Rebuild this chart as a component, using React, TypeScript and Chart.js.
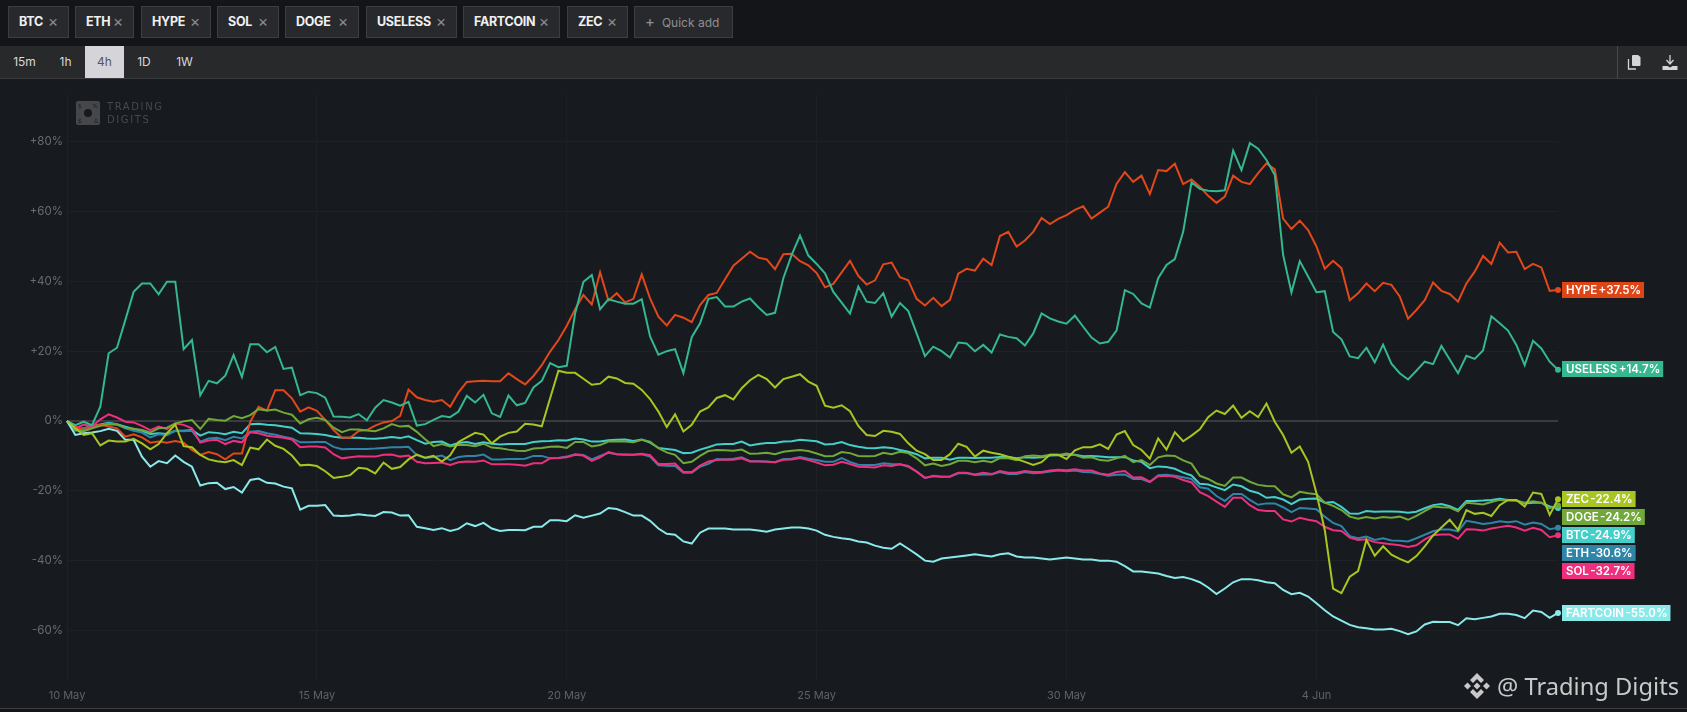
import { useEffect, useRef } from "react";
import { Chart, registerables } from "chart.js";

Chart.register(...registerables);

// tick labels of the time axis, one every 30 candles (5 days of 4h)
const dayLabels = ["10 May", "15 May", "20 May", "25 May", "30 May", "4 Jun"];
const yTicks = [-60, -40, -20, 0, 20, 40, 60, 80];

const chips = ["BTC", "ETH", "HYPE", "SOL", "DOGE", "USELESS", "FARTCOIN", "ZEC"];
const chipBoxes = [[8, 61], [75, 59], [141, 70], [217, 62], [285, 74], [366, 91], [463, 97], [567, 61]];
const timeframes = ["15m", "1h", "4h", "1D", "1W"];

// % change per candle
const btc = [
  0,-2.5,-2.1,-1.4,-1,-0.5,-0.9,-1.6,-2.3,-2.8,
  -3.7,-3.5,-3.7,-2.8,-2.8,-2.6,-4.2,-3.2,-3.4,-3.8,
  -3.1,-3.5,-0.9,-0.8,-1.1,-1.2,-1.6,-1.9,-3.5,-3.6,
  -3.7,-4,-4.5,-4.8,-4.8,-4.8,-5,-5.1,-4.9,-4.6,
  -4.9,-4.4,-5.5,-6.5,-6,-5.9,-7,-6.3,-6,-6.6,
  -6.1,-6.5,-6.7,-6.6,-6.6,-6.6,-6,-5.8,-5.7,-5.5,
  -5.6,-5,-5.3,-5.9,-5.9,-5.5,-5.4,-5.3,-5.7,-5.3,
  -6.2,-7.7,-8,-8.3,-9.2,-9.1,-8.2,-7.5,-6.7,-6.6,
  -6.6,-5.9,-7,-6.6,-6.3,-6.3,-5.9,-5.8,-5.4,-5.6,
  -5.8,-6.7,-6.6,-6,-6.9,-7.4,-7.7,-7.8,-7.5,-7.7,
  -8.3,-8.8,-9.5,-10.7,-10.5,-10.5,-11.1,-10.5,-10.5,-10.6,
  -10.5,-10.5,-10.3,-10.3,-10.7,-10.4,-10.5,-10.4,-9.9,-9.8,
  -9.7,-9.7,-10.1,-10,-10.2,-10.4,-10.4,-10.3,-11.3,-11.7,
  -13.5,-13,-13.2,-13.7,-14.8,-15.6,-18,-18.2,-19,-19.8,
  -18.2,-18.7,-20,-20.6,-22,-21.8,-22.5,-23.8,-22.5,-22.3,
  -22.2,-23.4,-23.2,-24.6,-26.5,-26.6,-25.8,-26,-25.9,-25.9,
  -26,-26.3,-26,-25,-24.1,-23.8,-24.4,-25.5,-22.9,-22.9,
  -22.8,-22.6,-22.3,-22.6,-22.8,-23.6,-23.4,-23.4,-24.5,-24.9,
];
const eth = [
  0,-2.8,-2.1,-1.6,-1.2,-0.7,-1,-2.1,-2.8,-3.3,
  -4.7,-3.8,-4.1,-2.8,-2.9,-2.8,-5.9,-5,-4.8,-5.5,
  -4.5,-5,-3.1,-2.9,-3.5,-3.9,-4.5,-5,-6.1,-6.1,
  -6,-6,-7.4,-8.1,-8,-8,-8,-7.9,-7.7,-7.5,
  -7.5,-7.4,-9.8,-10.6,-10.3,-9.9,-11.2,-10.3,-10,-10,
  -9.6,-11,-11,-10.9,-10.9,-10.8,-10,-10,-10.7,-10.6,
  -10.2,-9.5,-9.7,-11,-10,-9.1,-9.5,-9.6,-9.7,-9.5,
  -10.2,-12.7,-12.8,-12.9,-14.8,-14.8,-13.1,-12.3,-10.9,-11,
  -10.8,-10.4,-11.5,-11.5,-11.6,-11.8,-10.9,-10.8,-10.3,-10.8,
  -11.2,-11.7,-11.7,-10.6,-11.7,-12.5,-12.6,-12.6,-12.1,-12.3,
  -12.4,-13.1,-14.5,-16.3,-15.8,-16,-16,-15,-15,-15.5,
  -15.3,-15.3,-14.6,-15.2,-15.2,-14.6,-15,-14.8,-14.5,-14.2,
  -14.4,-14.2,-14.6,-14.7,-15.2,-15.7,-15.4,-15.3,-16.6,-16.6,
  -17.5,-15.5,-15.4,-15.7,-16.1,-16.6,-19,-19.4,-21.5,-22.9,
  -20.9,-20.9,-22.6,-24,-23.6,-23.6,-24.7,-26.1,-24.9,-25.1,
  -25.3,-27.4,-29.2,-30.1,-33,-33.6,-33.1,-34.1,-33.6,-34.2,
  -34.3,-34.5,-33.6,-32.6,-31.6,-31.1,-31.1,-31.6,-28.6,-29,
  -29.5,-29.2,-28.7,-29,-28.7,-29.7,-29.1,-29.5,-31,-30.6,
];
const hype = [
  0,-1.5,-2.6,-1.6,-1,-1.6,-2.1,-4.5,-3.8,-4.7,
  -6.2,-5.9,-6.2,-5.7,-6.2,-8.3,-9.7,-8.9,-9.5,-11,
  -9.3,-9.3,-0.2,4.1,3,8.8,8.8,6.5,2.7,3.9,
  2.9,0.3,-2.6,-4.8,-4.8,-2.9,-2.6,-1.3,-0.4,0,
  1.5,9,6.8,6,5.5,6,4.1,8.2,11.2,11.4,
  11.5,11.4,11.4,13.7,12,10.5,12.9,16,19.9,23.2,
  27.3,32,36.1,33.4,42.6,34.5,36.6,34,35,42,
  35.1,29.9,27.4,30.4,29.6,28.3,33.2,36.1,36.7,40.6,
  44.5,46.5,48.5,46.8,46.3,43.5,47.8,47.9,45.8,44.6,
  42.4,38.3,39.3,42.6,45.9,41.6,39.1,40.3,44.9,45.4,
  41.2,40.3,35,33.1,35.3,32.9,34.7,42.2,43.6,43.1,
  46.5,44.7,53,54.2,50,51.7,54.2,58.2,56.4,57.9,
  59,60.5,61.5,58,59.7,61.4,67.9,71.3,68.5,70.3,
  65,71.9,71.6,73.7,67.9,69.2,67.1,64.5,62.5,64.3,
  70.3,68.5,67.9,71,73.8,72.1,58,55,57.4,54.7,
  50,43.6,45.9,43.8,34.6,36.6,39.4,37.2,39.6,39,
  35.7,29.3,31.8,34.6,39.7,37.3,36.4,34.2,39.4,42.8,
  47.3,45,51.1,48.3,48.5,43.5,45,44,37.3,37.5,
];
const sol = [
  0,-2.1,-1,-1.6,0.5,1.9,1,-0.2,-0.4,-1.4,
  -2.6,-1.6,-2.3,-0.7,-1.1,-2.1,-6.2,-5.6,-5.4,-6.6,
  -5.7,-6.1,-3.2,-3.5,-4.2,-4.5,-4.8,-5.3,-7.5,-7.3,
  -7.3,-7.6,-9.5,-10.7,-10.4,-10.1,-10.2,-10.2,-9.7,-9.6,
  -10.2,-9.9,-11.7,-12.1,-12,-11.9,-12.6,-11.8,-11.6,-11.7,
  -11.3,-12.4,-12.4,-12.4,-12.5,-12.8,-12.1,-12.1,-10.7,-10.6,
  -10.4,-9.7,-9.9,-11.4,-10.4,-8.9,-9.5,-9.7,-9.7,-9.4,
  -9.8,-12.3,-12.3,-12.2,-14.6,-14.6,-12.8,-11.6,-11.2,-11,
  -11.1,-10.7,-11.6,-11.6,-11.7,-11.8,-11.1,-11,-10.6,-11.2,
  -11.9,-12.7,-12.5,-11.7,-12.3,-13.1,-13.2,-13.3,-12.7,-12.9,
  -12.4,-12.9,-14.5,-16.3,-15.7,-16,-15.9,-14.8,-14.8,-15.3,
  -14.8,-15.2,-14.3,-14.8,-14.8,-14.3,-14.6,-14.6,-14.2,-14,
  -14.1,-13.8,-14.2,-14.2,-15,-15.4,-14.6,-14.3,-16.2,-16.1,
  -17.4,-15.8,-15.7,-16,-16.9,-17.6,-20.4,-21.5,-23.1,-24.6,
  -22,-22,-24.1,-25.5,-25.8,-25.8,-28.2,-28.8,-27.7,-28.3,
  -28.7,-30.3,-31.3,-31.5,-33.4,-34.1,-33.9,-34.7,-35,-35.3,
  -35.6,-36.1,-35.6,-33.9,-32.7,-32.5,-32.5,-33.7,-31,-31.1,
  -31.4,-30.8,-30.4,-30,-30.5,-31.4,-30.6,-31.2,-33.3,-32.7,
];
const doge = [
  0,-2.6,-2.9,-2.1,-1.4,-0.9,-1,-1.9,-2.2,-2.6,
  -3.3,-2.1,-1.9,-0.7,-0.1,0.3,-2.3,0.6,0.3,0.1,
  1.4,0.8,1.7,3.4,3,3.3,2.4,1.8,-0.7,0.5,
  0.9,0.3,-1.9,-3.2,-2.4,-2.4,-2.7,-2.9,-2.1,-0.9,
  -1.6,-1.4,-3.1,-5.2,-7.2,-6.6,-7.3,-6.8,-6.9,-7.2,
  -6.5,-7.6,-7.8,-8.2,-8.5,-8.6,-7.9,-7.7,-7.4,-7.3,
  -7.7,-6,-6,-7.3,-6.9,-5.9,-5.8,-5.9,-6.1,-5.4,
  -5.9,-7.8,-9,-9.7,-12.1,-11.7,-10,-8.6,-8.3,-8.4,
  -8.5,-8.2,-9.4,-9.3,-9.1,-9.5,-8.8,-8.5,-8.3,-8.6,
  -9.3,-10.1,-10,-8.9,-9.2,-10,-10.1,-10,-9.1,-9.5,
  -8.8,-9.2,-10.7,-12.7,-12.2,-12.9,-12.4,-11.4,-11.4,-11.8,
  -11.4,-11.8,-10.6,-10.7,-11.2,-10.1,-9.9,-10.1,-9.7,-9.7,
  -9.3,-9.7,-10.5,-10.4,-11.2,-11.4,-10.7,-10,-11.8,-11.2,
  -12.6,-10.4,-9.9,-10,-11.3,-12.2,-15.7,-16.6,-17.9,-18.6,
  -16.2,-16.2,-17.4,-18.3,-18.6,-18.7,-21,-21.9,-20.3,-20.7,
  -21,-23.4,-24.3,-25.5,-27.4,-28,-27.5,-27.9,-27.5,-27.7,
  -27.4,-28.3,-27.2,-25.8,-24.5,-24.7,-24.8,-25.9,-23.4,-23.6,
  -23.9,-23.2,-22.6,-22.8,-22.8,-23.4,-23,-23.4,-25,-24.2,
];
const useless = [
  0,-1.2,-0.2,-1.2,4.1,19.4,21,28.9,37,39.4,
  39.4,36.3,39.9,39.9,20.6,23.2,7.4,11.5,10.8,13,
  18.9,12.6,22,22,19.7,21.2,14.9,15.3,7.4,8.4,
  8,6.7,1.3,1.2,1,2,0.2,3.8,6,5.3,
  4.4,5.5,-1.3,-0.9,0.3,1.4,1.1,2.7,7.2,5.3,
  7.5,2.2,1.2,7.3,4.5,5.2,9.6,11.5,16.6,15.4,
  15.8,30.8,39.9,41.8,32,34.9,34.2,33.6,33.6,34.9,
  24.2,19,20,20.6,13.7,24,28,35,35.5,32.8,
  32.8,34.2,35.1,32.6,30.4,31,40.9,47.6,53.1,47.4,
  45,42.3,37,33.9,30.8,38.5,34.2,33.8,36.6,29.9,
  33.8,31.5,25.1,18.6,21.3,20,18.2,22.5,22.2,20,
  21.8,19.6,24.8,24.1,23.7,21.6,25.1,30.8,29.4,28.5,
  27.9,30.2,27,23.9,22.2,22.7,25.9,37.5,36.4,33.7,
  32.5,40.9,44.7,46.4,54.2,68.4,66.5,66,65.8,66.1,
  77.5,71.9,79.6,78,74.8,70.5,47.6,36.8,45.8,41.4,
  36.9,37.2,25.5,23.4,18.5,18,21,16.8,21.9,16.4,
  13.7,11.9,14.4,17,16.3,21.5,17.6,13.7,18.7,17.8,
  20.2,30,28,25.9,21.8,16,23,20.8,17,14.7,
];
const fartcoin = [
  0,-4,-3.5,-3.3,-2.9,-2.2,-2.8,-5.4,-5.4,-10.2,
  -13.1,-11.5,-12.1,-9.9,-11.7,-13.1,-18.5,-17.8,-17.7,-19.5,
  -18.9,-20.5,-16.9,-16.5,-17.7,-17.9,-18.8,-19.3,-25.4,-24.3,
  -24.3,-24.1,-27.1,-27.2,-27.1,-26.7,-27,-27.2,-26.1,-26.2,
  -27.1,-27,-30.3,-30.7,-31.2,-30.7,-31.5,-30.9,-29.3,-30.1,
  -29.2,-30.8,-31.5,-31.2,-31.2,-31.3,-30.3,-30.3,-28.4,-28.4,
  -28.7,-27,-27.7,-27.1,-26.5,-24.9,-25.2,-26.1,-27.1,-27.1,
  -28.6,-30.8,-32.3,-32.6,-34.5,-35.1,-32,-30.8,-30.8,-30.8,
  -31.1,-31.1,-31.1,-31.4,-31.7,-31.1,-30.8,-30.5,-30.5,-30.8,
  -31.4,-32.6,-33.2,-33.6,-33.9,-34.5,-34.8,-35.7,-36.3,-36.6,
  -35.1,-36.6,-38.2,-40,-40.3,-39.4,-39.1,-38.8,-38.5,-38.2,
  -38.5,-38.8,-38.2,-37.9,-38.8,-39.1,-39.1,-39.4,-39.7,-39.4,
  -39.1,-39.4,-39.7,-39.7,-40,-40,-40.3,-41.6,-43.1,-43.1,
  -43.4,-43.7,-44.4,-45,-44.7,-45.3,-46.2,-47.7,-49.6,-48,
  -46.2,-45.3,-45.3,-45.6,-46.2,-46.5,-48.4,-49.6,-49.2,-50.3,
  -52.2,-54.2,-56,-57.2,-58.4,-59.1,-59.4,-59.7,-59.7,-59.5,
  -60.2,-61.1,-60.3,-58.3,-57.5,-57.6,-57.6,-58.5,-56.5,-56.8,
  -56.4,-56,-55.2,-55.2,-55.6,-56.5,-54.3,-54.7,-56.4,-55,
];
const zec = [
  0,-2.1,-4,-3.5,-7,-5.6,-5.9,-5.9,-5.1,-6.4,
  -8.1,-6.6,-3.5,-1,-7.2,-7.5,-9.7,-11,-11.5,-11.8,
  -11.2,-12.6,-7.6,-8.1,-5.3,-7.1,-8,-9.9,-12.7,-12.5,
  -12.9,-14.4,-16.3,-16,-15.5,-13.4,-13.7,-15,-11.9,-13.7,
  -13.2,-11,-9.6,-10.5,-10,-11.6,-9.8,-6,-4.7,-3.4,
  -3.9,-6.4,-4.5,-3.4,-3,-0.8,-1,-1.5,6.5,14.4,
  13.8,13.8,12.1,10.4,10.7,12.7,12.2,10.9,10.7,8.9,
  6.3,2.7,-1.7,1.9,-3,-1.1,2.7,3.9,6.6,7.4,
  6.2,9.4,11.7,13.2,12,9.6,12,12.7,13.4,11.3,
  10.1,4.4,3.8,4.5,2.8,-1.4,-4,-4.3,-2.8,-3.1,
  -3.7,-6.4,-8.5,-9.5,-11.2,-11.2,-9.5,-6.5,-7.4,-10.2,
  -8.5,-9.1,-9.5,-10.2,-10.9,-11.7,-12.6,-11.8,-9.7,-9.7,
  -10.9,-8.4,-7.5,-7.5,-6.7,-8,-3.9,-2.9,-6.9,-8.3,
  -10.8,-5,-8.2,-3.2,-5.8,-4.2,-2.4,1.1,3,2,
  4.4,0.9,2.8,1.1,5,-0.2,-4,-9.1,-7.3,-11.7,
  -20.7,-31.2,-48,-49.3,-44.6,-43,-34.1,-38.6,-35.9,-38.3,
  -39.5,-40.5,-38.7,-35.9,-32.8,-30.5,-28.3,-31.2,-25.5,-26.6,
  -26.3,-27.2,-24.1,-22.6,-22.6,-24.5,-20.5,-20.9,-26.9,-22.4,
];

const seriesValues = [btc, eth, hype, sol, doge, useless, fartcoin, zec];
const seriesColors = ["#45cfc9", "#2f85a8", "#e2481a", "#ee2f7e", "#71a83a", "#35b78f", "#8aeaea", "#a9c521"];
const labelColors = ["#45cfc9", "#2f85a8", "#dd4516", "#ee2f7e", "#71a83a", "#35b78f", "#8aeaea", "#a9c521"];
// centre of each end label, they get pushed apart so they don't overlap
const labelCentres = [535, 553, 290, 571, 517, 369, 613, 499];

const categories = btc.map((_, i) => (i % 30 === 0 ? dayLabels[i / 30] : ""));

function fmt(v: number) {
  const s = Math.abs(v).toFixed(1);
  return v >= 0 ? "+" + s + "%" : "-" + s + "%";
}

// coloured boxes at the end of the lines
const endLabels = {
  id: "endLabels",
  afterDatasetsDraw(chart: any) {
    const ctx = chart.ctx;
    const left = chart.chartArea.right + 4;
    ctx.save();
    ctx.font = "600 11.5px Inter";
    ctx.textBaseline = "middle";
    ctx.wordSpacing = "-1.5px";
    seriesValues.forEach((vals, i) => {
      const text = chips[i] + " " + fmt(vals[vals.length - 1]);
      const w = ctx.measureText(text).width + 7;
      const y = labelCentres[i];
      ctx.fillStyle = labelColors[i];
      ctx.fillRect(left, y - 8, w, 16);
      ctx.fillStyle = "#ffffff";
      ctx.fillText(text, left + 4, y + 0.5);
    });
    ctx.restore();
  },
};

function ChartCanvas() {
  const chartRef = useRef<HTMLCanvasElement | null>(null);

  useEffect(() => {
    if (!chartRef.current) return;
    const chart = new Chart(chartRef.current, {
      type: "line",
      data: {
        labels: categories,
        datasets: seriesValues.map((vals, i) => ({
          label: chips[i],
          data: vals,
          borderColor: seriesColors[i],
          backgroundColor: seriesColors[i],
          borderWidth: 2,
          tension: 0,
          clip: false as any,
          order: seriesValues.length - i,
          pointRadius: (c: any) => (c.dataIndex === vals.length - 1 ? 3 : 0),
          pointBorderWidth: 0,
        })),
      },
      options: {
        animation: false,
        responsive: false,
        layout: { padding: { top: 95, right: 129, left: 0, bottom: 0 } },
        plugins: { legend: { display: false }, tooltip: { enabled: false } },
        scales: {
          x: {
            type: "category",
            offset: false,
            afterBuildTicks: (s: any) => {
              s.ticks = s.ticks.filter((t: any) => t.value % 30 === 0);
            },
            afterFit: (s: any) => {
              s.height = 32;
            },
            grid: { color: "#1e2024", drawTicks: false },
            border: { display: false },
            ticks: {
              autoSkip: false,
              maxRotation: 0,
              padding: 9,
              color: "#5f6266",
              font: { family: "Inter", size: 11 },
            },
          },
          y: {
            min: -74.2,
            max: 93.4,
            afterBuildTicks: (s: any) => {
              s.ticks = yTicks.map((v) => ({ value: v }));
            },
            afterFit: (s: any) => {
              s.width = 67;
            },
            grid: {
              color: (c: any) => (c.tick && c.tick.value === 0 ? "#3a3b3e" : "#1f2125"),
              lineWidth: (c: any) => (c.tick && c.tick.value === 0 ? 2 : 1),
              drawTicks: false,
            },
            border: { display: false },
            ticks: {
              padding: 4,
              color: "#686b6f",
              font: { family: "Inter", size: 11.5 },
              callback: (v: any) => (v === 0 ? "0%" : v > 0 ? "+" + v + "%" : v + "%"),
            },
          },
        },
      },
      plugins: [endLabels],
    } as any);

    return () => {
      chart.destroy();
    };
  }, []);

  return (
    <canvas
      ref={chartRef}
      width={1687}
      height={712}
      style={{ position: "absolute", left: 0, top: 0, width: 1687, height: 712 }}
    />
  );
}

function BinanceIcon() {
  return (
    <svg width="30" height="30" viewBox="0 0 30 30" style={{ position: "absolute", left: 1462, top: 671 }}>
      <g fill="#c9c9c9">
        <path d="M15 2 L22 9 L19 12 L15 8 L11 12 L8 9 Z" />
        <path d="M15 28 L22 21 L19 18 L15 22 L11 18 L8 21 Z" />
        <path d="M2 15 L5.5 11.5 L9 15 L5.5 18.5 Z" />
        <path d="M28 15 L24.5 11.5 L21 15 L24.5 18.5 Z" />
        <path d="M15 11.5 L18.5 15 L15 18.5 L11.5 15 Z" />
      </g>
    </svg>
  );
}

export default function App() {
  const box = { position: "absolute" as const };
  return (
    <div
      style={{
        position: "fixed",
        left: 0,
        top: 0,
        width: 1687,
        height: 712,
        overflow: "hidden",
        background: "#171a1f",
        fontFamily: "Inter, sans-serif",
      }}
    >
      <ChartCanvas />

      {/* chip row */}
      <div style={{ ...box, left: 0, top: 0, width: 1687, height: 46, background: "#141518" }} />
      {chips.map((name, i) => (
        <div
          key={name}
          style={{
            ...box,
            left: chipBoxes[i][0],
            top: 6,
            width: chipBoxes[i][1],
            height: 32,
            boxSizing: "border-box",
            background: "#28292c",
            border: "1px solid #3c3d40",
            color: "#f0f0f2",
            fontSize: 12.5,
            fontWeight: 700,
            letterSpacing: -0.3,
            lineHeight: "30px",
            paddingLeft: 10,
            whiteSpace: "nowrap",
          }}
        >
          {name}
          <span style={{ position: "absolute", right: 10, top: -1, color: "#8a8b8e", fontWeight: 400, fontSize: 16 }}>×</span>
        </div>
      ))}
      <div
        style={{
          ...box,
          left: 634,
          top: 6,
          width: 99,
          height: 32,
          boxSizing: "border-box",
          background: "#28292c",
          border: "1px solid #3c3d40",
          color: "#8e8f92",
          fontSize: 12,
          lineHeight: "30px",
          paddingLeft: 10,
          whiteSpace: "nowrap",
        }}
      >
        <span style={{ fontSize: 15, marginRight: 7 }}>+</span>Quick add
      </div>

      {/* timeframe row */}
      <div
        style={{
          ...box,
          left: 0,
          top: 46,
          width: 1687,
          height: 33,
          boxSizing: "border-box",
          background: "#28292b",
          borderBottom: "1px solid #3b3c3f",
        }}
      />
      {timeframes.map((t, i) => (
        <div
          key={t}
          style={{
            ...box,
            left: [0, 46, 85, 124, 164][i],
            top: 46,
            width: [49, 39, 39, 40, 41][i],
            height: 32,
            textAlign: "center",
            lineHeight: "32px",
            fontSize: 12,
            background: t === "4h" ? "#d5d5d9" : "transparent",
            color: t === "4h" ? "#55565a" : "#d8d8da",
          }}
        >
          {t}
        </div>
      ))}
      <div style={{ ...box, left: 1617, top: 46, width: 1, height: 32, background: "#48494c" }} />
      <svg width="16" height="16" viewBox="0 0 16 16" style={{ position: "absolute", left: 1627, top: 54 }}>
        <path d="M1.5 5 V15 H9" fill="none" stroke="#d5d5d8" strokeWidth="1.3" />
        <path d="M5 1.5 Q5 1 6 1 H11 L13.5 3 V11 Q13.5 12 12.5 12 H6 Q5 12 5 11 Z" fill="#d5d5d8" />
      </svg>
      <svg width="16" height="16" viewBox="0 0 16 16" style={{ position: "absolute", left: 1662, top: 55 }}>
        <path d="M8 0 V8 M4.5 5 L8 9 L11.5 5" fill="none" stroke="#d5d5d8" strokeWidth="1.3" />
        <path d="M0.5 11 H5.5 L8 12.5 L10.5 11 H15.5 V15 H0.5 Z" fill="#d5d5d8" />
      </svg>

      {/* brand in the top left of the plot */}
      <div style={{ ...box, left: 76, top: 101, width: 24, height: 24, background: "#45474b", borderRadius: 2 }}>
        <div style={{ ...box, left: 8, top: 8, width: 8, height: 8, borderRadius: 4, background: "#17191d" }} />
        <div style={{ ...box, left: 2, top: 1, fontSize: 6, lineHeight: "7px", color: "#1c1e22", fontFamily: "DejaVu Sans" }}>$</div>
        <div style={{ ...box, right: 2, top: 1, fontSize: 6, lineHeight: "7px", color: "#1c1e22", fontFamily: "DejaVu Sans" }}>%</div>
        <div style={{ ...box, left: 2, bottom: 1, fontSize: 6, lineHeight: "7px", color: "#1c1e22", fontFamily: "DejaVu Sans" }}>$</div>
        <div style={{ ...box, right: 2, bottom: 1, fontSize: 6, lineHeight: "7px", color: "#1c1e22", fontFamily: "DejaVu Sans" }}>Δ</div>
      </div>
      <div
        style={{
          ...box,
          left: 107,
          top: 101,
          fontSize: 10,
          lineHeight: "12.5px",
          letterSpacing: 1.6,
          color: "#46494d",
          fontFamily: "DejaVu Sans",
        }}
      >
        TRADING
        <br />
        DIGITS
      </div>

      {/* watermark */}
      <BinanceIcon />
      <div
        style={{
          ...box,
          left: 1497,
          top: 668,
          fontSize: 23.7,
          lineHeight: "36px",
          color: "#c9c9c9",
          fontFamily: "Noto Sans",
          whiteSpace: "nowrap",
        }}
      >
        @ Trading Digits
      </div>

      <div style={{ ...box, left: 0, top: 708, width: 1687, height: 4, background: "#141518", borderTop: "1px solid #3b3c3f" }} />
    </div>
  );
}
